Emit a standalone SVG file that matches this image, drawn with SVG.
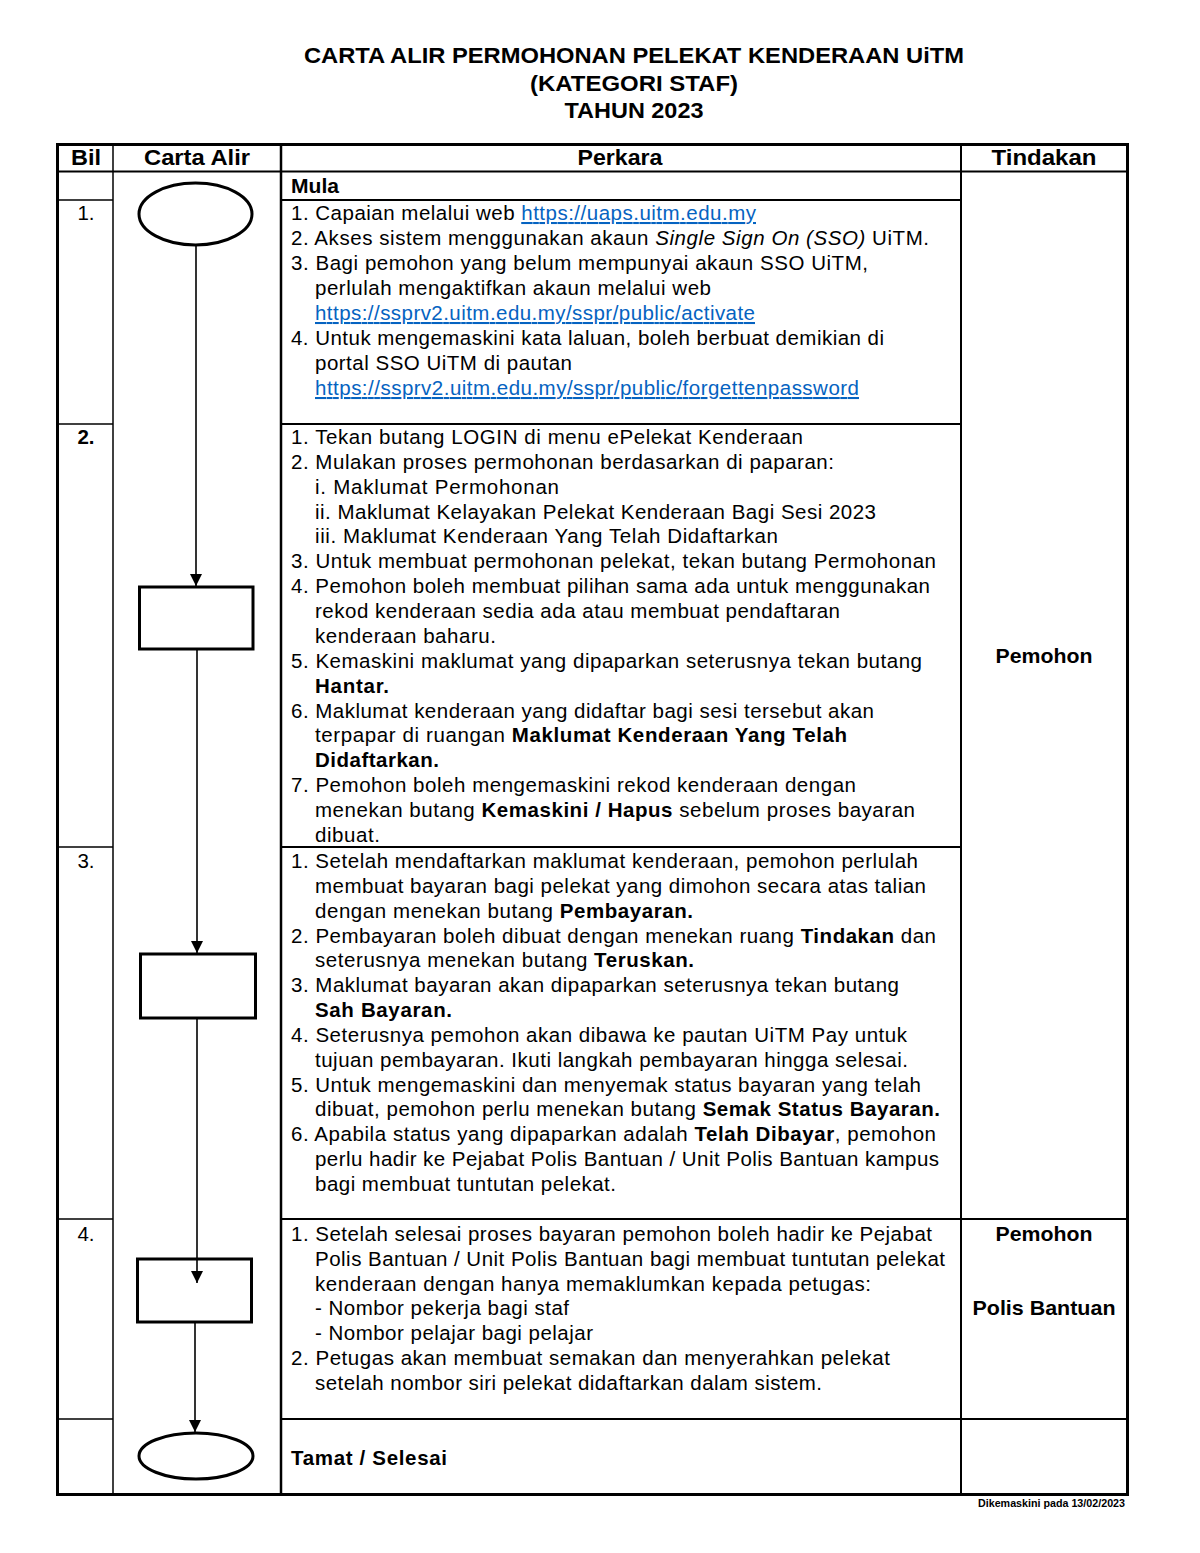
<svg xmlns="http://www.w3.org/2000/svg" width="1200" height="1553" viewBox="0 0 1200 1553">
<style>
.t{font-family:"Liberation Sans",Arial,sans-serif;font-size:20.5px;fill:#000}
.h{font-family:"Liberation Sans",Arial,sans-serif;font-size:21.5px;font-weight:bold;fill:#000}
.ti{font-family:"Liberation Sans",Arial,sans-serif;font-size:22px;font-weight:bold;fill:#000}
.b{font-weight:bold}
.i{font-style:italic}
.lk{fill:#0563C1;text-decoration:underline}
.g{stroke:#000;fill:none}
.shape{fill:#fff;stroke:#000;stroke-width:3}
.con{stroke:#000;stroke-width:1.6;fill:none}
</style>
<defs>
<marker id="arr" viewBox="0 0 12 12" refX="12" refY="6" markerWidth="12" markerHeight="12" markerUnits="userSpaceOnUse" orient="auto">
<path d="M0,0 L12,6 L0,12 z" fill="#000"/>
</marker>
</defs>
<rect width="1200" height="1553" fill="#fff"/>

<g id="title">
<text class="ti" x="634" y="63" text-anchor="middle" textLength="660" lengthAdjust="spacingAndGlyphs">CARTA ALIR PERMOHONAN PELEKAT KENDERAAN UiTM</text>
<text class="ti" x="634" y="91" text-anchor="middle" textLength="208" lengthAdjust="spacingAndGlyphs">(KATEGORI STAF)</text>
<text class="ti" x="634" y="118" text-anchor="middle" textLength="139" lengthAdjust="spacingAndGlyphs">TAHUN 2023</text>
</g>

<g id="grid">
<rect class="g" x="57.5" y="144.5" width="1070" height="1350" stroke-width="3"/>
<line class="g" x1="113" y1="144" x2="113" y2="1495" stroke-width="1.5"/>
<line class="g" x1="281" y1="144" x2="281" y2="1495" stroke-width="2.5"/>
<line class="g" x1="961" y1="144" x2="961" y2="1495" stroke-width="2"/>
<line class="g" x1="57" y1="171.5" x2="1128" y2="171.5" stroke-width="2"/>
<line class="g" x1="57" y1="200" x2="113" y2="200" stroke-width="1.5"/>
<line class="g" x1="281" y1="200" x2="961" y2="200" stroke-width="2"/>
<line class="g" x1="57" y1="424" x2="113" y2="424" stroke-width="1.5"/>
<line class="g" x1="281" y1="424" x2="961" y2="424" stroke-width="2"/>
<line class="g" x1="57" y1="847" x2="113" y2="847" stroke-width="1.5"/>
<line class="g" x1="281" y1="847" x2="961" y2="847" stroke-width="2"/>
<line class="g" x1="57" y1="1219" x2="113" y2="1219" stroke-width="1.5"/>
<line class="g" x1="281" y1="1219" x2="1128" y2="1219" stroke-width="2"/>
<line class="g" x1="57" y1="1419" x2="113" y2="1419" stroke-width="1.5"/>
<line class="g" x1="281" y1="1419" x2="1128" y2="1419" stroke-width="2"/>
</g>

<g id="header">
<text class="h" x="86" y="165" text-anchor="middle" textLength="30" lengthAdjust="spacingAndGlyphs">Bil</text>
<text class="h" x="197" y="165" text-anchor="middle" textLength="106" lengthAdjust="spacingAndGlyphs">Carta Alir</text>
<text class="h" x="620" y="165" text-anchor="middle" textLength="85" lengthAdjust="spacingAndGlyphs">Perkara</text>
<text class="h" x="1044" y="165" text-anchor="middle" textLength="105" lengthAdjust="spacingAndGlyphs">Tindakan</text>
</g>

<g id="bil">
<text class="t" x="86" y="220" text-anchor="middle">1.</text>
<text class="t b" x="86" y="444" text-anchor="middle">2.</text>
<text class="t" x="86" y="868" text-anchor="middle">3.</text>
<text class="t" x="86" y="1241" text-anchor="middle">4.</text>
</g>

<g id="node-start"><ellipse class="shape" cx="195.5" cy="214" rx="56.5" ry="31"/></g>
<g id="node-step2"><rect class="shape" x="139.5" y="587" width="113.5" height="62"/></g>
<g id="node-step3"><rect class="shape" x="140.5" y="954" width="115" height="64"/></g>
<g id="node-step4"><rect class="shape" x="137.5" y="1259" width="114" height="63"/></g>
<g id="node-end"><ellipse class="shape" cx="196" cy="1456" rx="57" ry="23"/></g>

<g id="connectors">
<line class="con" x1="196" y1="246" x2="196" y2="586" marker-end="url(#arr)"/>
<line class="con" x1="197" y1="649" x2="197" y2="953" marker-end="url(#arr)"/>
<line class="con" x1="197" y1="1018" x2="197" y2="1283" marker-end="url(#arr)"/>
<line class="con" x1="195" y1="1322" x2="195" y2="1432" marker-end="url(#arr)"/>
</g>

<g id="mula"><text class="t b" x="291" y="193" textLength="48" lengthAdjust="spacingAndGlyphs">Mula</text></g>

<g id="row1">
<text class="t" x="291" y="220" textLength="465" lengthAdjust="spacing">1. Capaian melalui web <tspan class="lk">https://uaps.uitm.edu.my</tspan></text>
<text class="t" x="291" y="245" textLength="638" lengthAdjust="spacing">2. Akses sistem menggunakan akaun <tspan class="i">Single Sign On (SSO)</tspan> UiTM.</text>
<text class="t" x="291" y="270" textLength="577" lengthAdjust="spacing">3. Bagi pemohon yang belum mempunyai akaun SSO UiTM,</text>
<text class="t" x="315" y="295" textLength="396" lengthAdjust="spacing">perlulah mengaktifkan akaun melalui web</text>
<text class="t lk" x="315" y="320" textLength="440" lengthAdjust="spacing">https://ssprv2.uitm.edu.my/sspr/public/activate</text>
<text class="t" x="291" y="345" textLength="593" lengthAdjust="spacing">4. Untuk mengemaskini kata laluan, boleh berbuat demikian di</text>
<text class="t" x="315" y="370" textLength="257" lengthAdjust="spacing">portal SSO UiTM di pautan</text>
<text class="t lk" x="315" y="395" textLength="544" lengthAdjust="spacing">https://ssprv2.uitm.edu.my/sspr/public/forgettenpassword</text>
</g>

<g id="row2">
<text class="t" x="291" y="444" textLength="512" lengthAdjust="spacing">1. Tekan butang LOGIN di menu ePelekat Kenderaan</text>
<text class="t" x="291" y="469" textLength="543" lengthAdjust="spacing">2. Mulakan proses permohonan berdasarkan di paparan:</text>
<text class="t" x="315" y="494" textLength="244" lengthAdjust="spacing">i.  Maklumat Permohonan</text>
<text class="t" x="315" y="519" textLength="561" lengthAdjust="spacing">ii. Maklumat Kelayakan Pelekat Kenderaan Bagi Sesi 2023</text>
<text class="t" x="315" y="543" textLength="463" lengthAdjust="spacing">iii. Maklumat Kenderaan Yang Telah Didaftarkan</text>
<text class="t" x="291" y="568" textLength="645" lengthAdjust="spacing">3. Untuk membuat permohonan pelekat, tekan butang Permohonan</text>
<text class="t" x="291" y="593" textLength="639" lengthAdjust="spacing">4. Pemohon boleh membuat pilihan sama ada untuk menggunakan</text>
<text class="t" x="315" y="618" textLength="525" lengthAdjust="spacing">rekod kenderaan sedia ada atau membuat pendaftaran</text>
<text class="t" x="315" y="643" textLength="181" lengthAdjust="spacing">kenderaan baharu.</text>
<text class="t" x="291" y="668" textLength="631" lengthAdjust="spacing">5. Kemaskini maklumat yang dipaparkan seterusnya tekan butang</text>
<text class="t b" x="315" y="693" textLength="74" lengthAdjust="spacing">Hantar.</text>
<text class="t" x="291" y="718" textLength="583" lengthAdjust="spacing">6. Maklumat kenderaan yang didaftar bagi sesi tersebut akan</text>
<text class="t" x="315" y="742" textLength="532" lengthAdjust="spacing">terpapar di ruangan <tspan class="b">Maklumat Kenderaan Yang Telah</tspan></text>
<text class="t b" x="315" y="767" textLength="124" lengthAdjust="spacing">Didaftarkan.</text>
<text class="t" x="291" y="792" textLength="565" lengthAdjust="spacing">7. Pemohon boleh mengemaskini rekod kenderaan dengan</text>
<text class="t" x="315" y="817" textLength="600" lengthAdjust="spacing">menekan butang <tspan class="b">Kemaskini / Hapus</tspan> sebelum proses bayaran</text>
<text class="t" x="315" y="842" textLength="65" lengthAdjust="spacing">dibuat.</text>
</g>

<g id="row3">
<text class="t" x="291" y="868" textLength="627" lengthAdjust="spacing">1. Setelah mendaftarkan maklumat kenderaan, pemohon perlulah</text>
<text class="t" x="315" y="893" textLength="611" lengthAdjust="spacing">membuat bayaran bagi pelekat yang dimohon secara atas talian</text>
<text class="t" x="315" y="918" textLength="378" lengthAdjust="spacing">dengan menekan butang <tspan class="b">Pembayaran.</tspan></text>
<text class="t" x="291" y="943" textLength="645" lengthAdjust="spacing">2. Pembayaran boleh dibuat dengan menekan ruang <tspan class="b">Tindakan</tspan> dan</text>
<text class="t" x="315" y="967" textLength="379" lengthAdjust="spacing">seterusnya menekan butang <tspan class="b">Teruskan.</tspan></text>
<text class="t" x="291" y="992" textLength="608" lengthAdjust="spacing">3. Maklumat bayaran akan dipaparkan seterusnya tekan butang</text>
<text class="t b" x="315" y="1017" textLength="137" lengthAdjust="spacing">Sah Bayaran.</text>
<text class="t" x="291" y="1042" textLength="616" lengthAdjust="spacing">4. Seterusnya pemohon akan dibawa ke pautan UiTM Pay untuk</text>
<text class="t" x="315" y="1067" textLength="593" lengthAdjust="spacing">tujuan pembayaran. Ikuti langkah pembayaran hingga selesai.</text>
<text class="t" x="291" y="1092" textLength="630" lengthAdjust="spacing">5. Untuk mengemaskini dan menyemak status bayaran yang telah</text>
<text class="t" x="315" y="1116" textLength="625" lengthAdjust="spacing">dibuat, pemohon perlu menekan butang <tspan class="b">Semak Status Bayaran.</tspan></text>
<text class="t" x="291" y="1141" textLength="645" lengthAdjust="spacing">6. Apabila status yang dipaparkan adalah <tspan class="b">Telah Dibayar</tspan>, pemohon</text>
<text class="t" x="315" y="1166" textLength="624" lengthAdjust="spacing">perlu hadir ke Pejabat Polis Bantuan / Unit Polis Bantuan kampus</text>
<text class="t" x="315" y="1191" textLength="301" lengthAdjust="spacing">bagi membuat tuntutan pelekat.</text>
</g>

<g id="row4">
<text class="t" x="291" y="1241" textLength="641" lengthAdjust="spacing">1. Setelah selesai proses bayaran pemohon boleh hadir ke Pejabat</text>
<text class="t" x="315" y="1266" textLength="630" lengthAdjust="spacing">Polis Bantuan / Unit Polis Bantuan bagi membuat tuntutan pelekat</text>
<text class="t" x="315" y="1291" textLength="556" lengthAdjust="spacing">kenderaan dengan hanya memaklumkan kepada petugas:</text>
<text class="t" x="315" y="1315" textLength="254" lengthAdjust="spacing">- Nombor pekerja bagi staf</text>
<text class="t" x="315" y="1340" textLength="278" lengthAdjust="spacing">- Nombor pelajar bagi pelajar</text>
<text class="t" x="291" y="1365" textLength="599" lengthAdjust="spacing">2. Petugas akan membuat semakan dan menyerahkan pelekat</text>
<text class="t" x="315" y="1390" textLength="507" lengthAdjust="spacing">setelah nombor siri pelekat didaftarkan dalam sistem.</text>
</g>

<g id="tamat"><text class="t b" x="291" y="1465" textLength="156" lengthAdjust="spacing">Tamat / Selesai</text></g>

<g id="tindakan">
<text class="t b" x="1044" y="663" text-anchor="middle" textLength="97" lengthAdjust="spacingAndGlyphs">Pemohon</text>
<text class="t b" x="1044" y="1241" text-anchor="middle" textLength="97" lengthAdjust="spacingAndGlyphs">Pemohon</text>
<text class="t b" x="1044" y="1315" text-anchor="middle" textLength="143" lengthAdjust="spacingAndGlyphs">Polis Bantuan</text>
</g>

<g id="footer"><text x="1125" y="1507" text-anchor="end" font-family="'Liberation Sans',Arial,sans-serif" font-size="10" font-weight="bold" textLength="147" lengthAdjust="spacingAndGlyphs">Dikemaskini pada 13/02/2023</text></g>
</svg>
